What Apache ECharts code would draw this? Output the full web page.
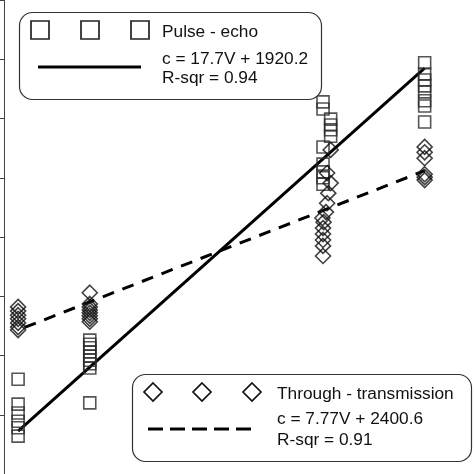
<!DOCTYPE html>
<html>
<head>
<meta charset="utf-8">
<script src="https://cdn.jsdelivr.net/npm/echarts@6/dist/echarts.min.js"></script>
<style>
html,body{margin:0;padding:0;background:#fff;}
#chart{width:474px;height:474px;}
</style>
</head>
<body>
<div id="chart"></div>
<script>
// Pulse-echo measurements [V, c]
var pulseEcho = [
  [31.2, 2560], [31.2, 2518], [31.2, 2503], [31.2, 2489], [31.2, 2478], [31.2, 2464],
  [37.3, 2626], [37.3, 2619], [37.3, 2613], [37.3, 2606], [37.3, 2599], [37.3, 2592], [37.3, 2586], [37.3, 2579], [37.3, 2520],
  [57.15, 3028], [57.15, 3016], [57.8, 2999], [57.8, 2989], [57.8, 2981], [57.8, 2970], [57.15, 2952], [57.15, 2923], [57.15, 2910], [57.15, 2900], [57.15, 2889],
  [65.8, 3094], [65.8, 3075], [65.8, 3065], [65.8, 3055], [65.8, 3045], [65.8, 3030], [65.8, 3021], [65.8, 2994]
];
// Through-transmission measurements [V, c]
var throughTrans = [
  [31.2, 2682], [31.2, 2675], [31.2, 2668], [31.2, 2662], [31.2, 2655], [31.2, 2648], [31.2, 2643],
  [37.3, 2706], [37.3, 2687], [37.3, 2682], [37.3, 2677], [37.3, 2672], [37.3, 2667], [37.3, 2662], [37.3, 2657],
  [57.8, 2947], [57.5, 2908], [57.8, 2891], [57.6, 2874], [57.5, 2857], [57.4, 2842], [57.1, 2832], [57.2, 2825], [57.15, 2815], [57.15, 2805], [57.15, 2795], [57.15, 2785], [57.15, 2768],
  [65.8, 2952], [65.8, 2943], [65.8, 2933], [65.8, 2906], [65.8, 2901], [65.8, 2896]
];
// Regression line end points (c = 17.7V + 1920.2 and c = 7.77V + 2400.6)
var pulseEchoFit = [[31.2, 2472.4], [65.8, 3084.9]];
var throughTransFit = [[31.2, 2643.0], [65.8, 2911.9]];
// Legend texts
var pulseLabels = ['Pulse - echo', 'c = 17.7V + 1920.2', 'R-sqr = 0.94'];
var throughLabels = ['Through - transmission', 'c = 7.77V + 2400.6', 'R-sqr = 0.91'];
// Axis ranges
var xRange = [30, 70];
var yRange = [2400, 3200];
var yStep = 100;

var FONT = '"Liberation Sans", Arial, sans-serif';
var chart = echarts.init(document.getElementById('chart'), null, {renderer: 'canvas'});

function txt(x, y, s) {
  return {type: 'text', x: x, y: y, z: 101,
    style: {text: s, font: '17.3px ' + FONT, fill: '#111', verticalAlign: 'top', align: 'left'}};
}
function sq(cx, cy) {
  return {type: 'rect', z: 101, shape: {x: cx - 9, y: cy - 9, width: 18, height: 18},
    style: {fill: 'none', stroke: '#222', lineWidth: 1.7}};
}
function dia(cx, cy) {
  return {type: 'polygon', z: 101, shape: {points: [[cx, cy - 9], [cx + 9, cy], [cx, cy + 9], [cx - 9, cy]]},
    style: {fill: 'none', stroke: '#111', lineWidth: 1.7}};
}

var option = {
  animation: false,
  backgroundColor: '#fff',
  grid: {left: 4, right: 0, top: 0, bottom: 0, containLabel: false},
  xAxis: {type: 'value', min: xRange[0], max: xRange[1], show: false},
  yAxis: {
    type: 'value', min: yRange[0], max: yRange[1], interval: yStep,
    axisLine: {show: true, lineStyle: {color: '#444', width: 1}},
    axisTick: {show: true, inside: false, length: 5, lineStyle: {color: '#444', width: 1}},
    axisLabel: {show: false},
    splitLine: {show: false}
  },
  series: [
    {type: 'line', data: pulseEchoFit, symbol: 'none', z: 3,
      lineStyle: {color: '#000', width: 3}},
    {type: 'line', data: throughTransFit, symbol: 'none', z: 3,
      lineStyle: {color: '#000', width: 3, type: [12, 9], dashOffset: 14}},
    {type: 'scatter', data: pulseEcho, symbol: 'rect', symbolSize: 12, z: 4,
      itemStyle: {color: 'rgba(0,0,0,0)', borderColor: '#2a2a2a', borderWidth: 1.6}},
    {type: 'scatter', data: throughTrans, symbol: 'diamond', symbolSize: 15, z: 4,
      itemStyle: {color: 'rgba(0,0,0,0)', borderColor: '#111', borderWidth: 1.6}}
  ],
  graphic: [
    {type: 'rect', z: 100, shape: {x: 19.5, y: 12.5, width: 302, height: 87, r: 13},
      style: {fill: '#fff', stroke: '#333', lineWidth: 1.2}},
    sq(40, 30), sq(90, 30), sq(140, 30),
    {type: 'line', z: 101, shape: {x1: 38, y1: 67, x2: 141, y2: 67}, style: {stroke: '#000', lineWidth: 3}},
    txt(162, 24, pulseLabels[0]), txt(162, 51, pulseLabels[1]), txt(162, 70, pulseLabels[2]),

    {type: 'rect', z: 100, shape: {x: 132.5, y: 374.5, width: 339, height: 87, r: 13},
      style: {fill: '#fff', stroke: '#333', lineWidth: 1.2}},
    dia(153, 392), dia(202, 392), dia(252, 392),
    {type: 'line', z: 101, shape: {x1: 148, y1: 429, x2: 253, y2: 429},
      style: {stroke: '#000', lineWidth: 3, lineDash: [15, 7]}},
    txt(277, 386, throughLabels[0]), txt(277, 411, throughLabels[1]), txt(277, 432, throughLabels[2])
  ]
};
chart.setOption(option);
</script>
</body>
</html>
